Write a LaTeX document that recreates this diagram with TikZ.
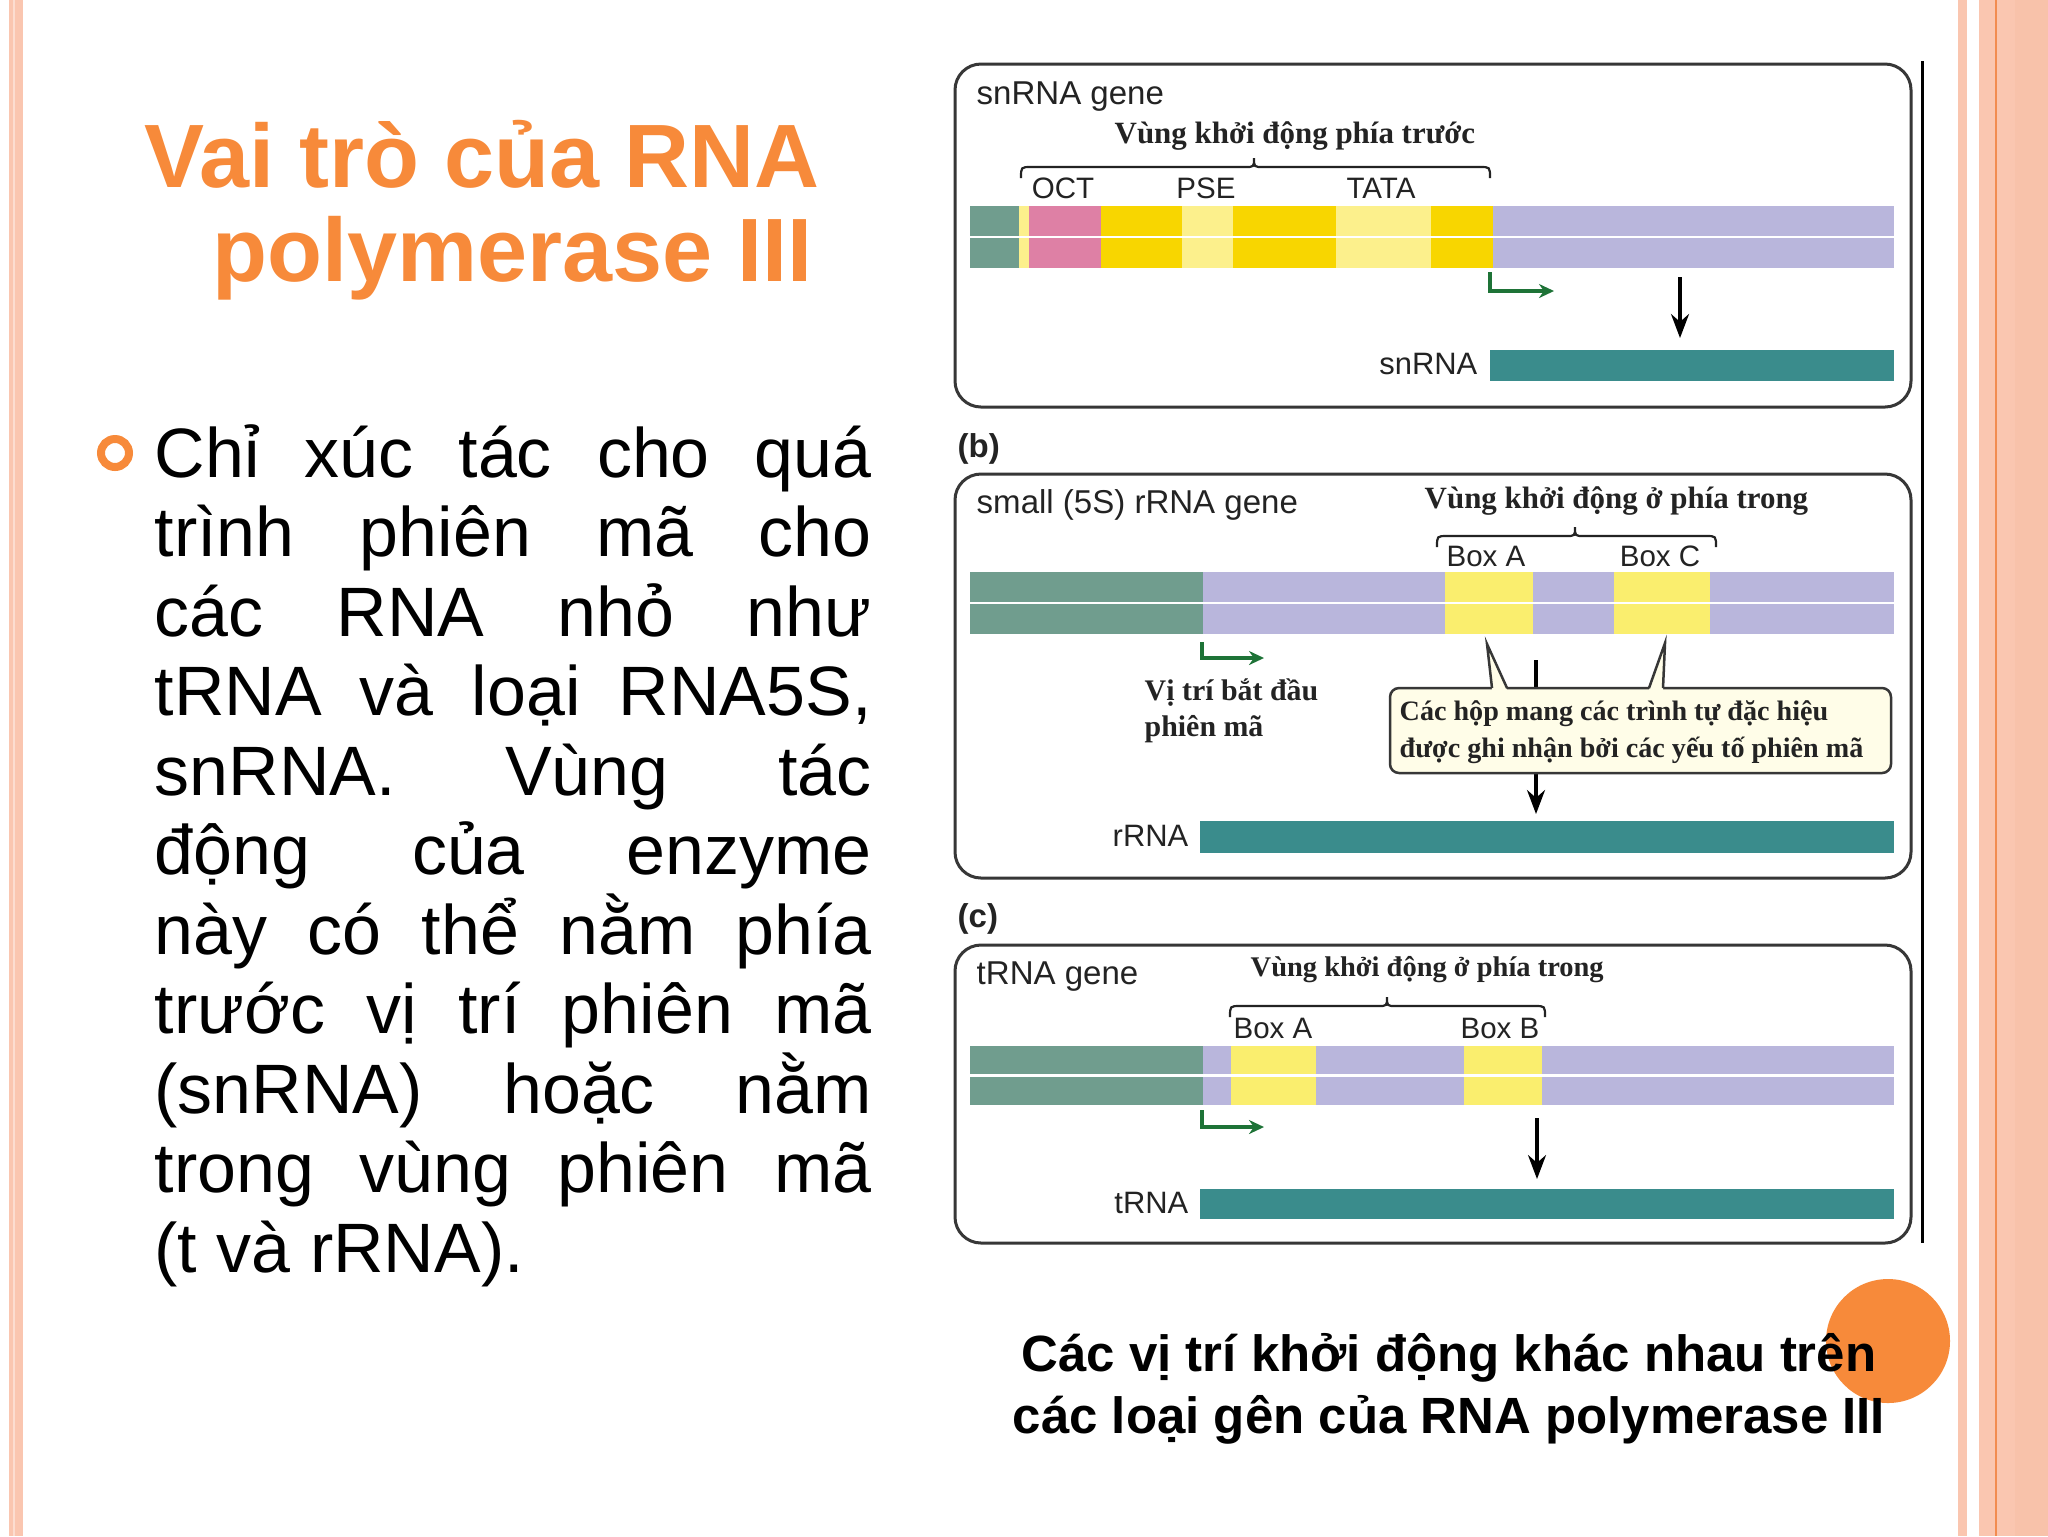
\documentclass[tikz,border=0pt]{standalone}
\usepackage{fontspec}
\setmainfont{Liberation Sans}
\newfontfamily\serifb{Liberation Serif}
\usetikzlibrary{arrows.meta}
\newcommand\pxf[1]{\fontsize{#1}{#1}\selectfont}
\definecolor{stripe}{RGB}{250,198,176}
\definecolor{stripeb}{RGB}{248,194,170}
\definecolor{stripeline}{RGB}{242,140,80}
\definecolor{accent}{RGB}{247,138,58}
\definecolor{figtext}{RGB}{35,35,35}
\definecolor{figframe}{RGB}{55,55,55}
\definecolor{dnagreen}{RGB}{112,157,142}
\definecolor{octpink}{RGB}{222,128,165}
\definecolor{gold}{RGB}{248,214,0}
\definecolor{paleyel}{RGB}{252,240,140}
\definecolor{lav}{RGB}{185,182,220}
\definecolor{boxyel}{RGB}{250,238,110}
\definecolor{rnateal}{RGB}{58,140,140}
\definecolor{tssgreen}{RGB}{30,115,55}
\definecolor{calloutfill}{RGB}{255,253,232}
\newcommand\brc[4]{% x0, x1, xm, y
  \draw[bracestyle] (#1,#4+11) .. controls (#1,#4) .. (#1+10,#4) -- (#3-9,#4)
    .. controls (#3,#4) .. (#3,#4-9) .. controls (#3,#4) .. (#3+9,#4) -- (#2-10,#4)
    .. controls (#2,#4) .. (#2,#4+11);}
\newcommand\dnabar[3]{% x0, y top, y bottom  (white separation)
  \draw[white, line width=0.28mm] (#1,{(#2+#3)/2}) -- (1894,{(#2+#3)/2});}
\tikzset{
  title/.style={font=\pxf{25.6pt}\bfseries, text=accent, inner sep=0},
  body/.style={font=\pxf{19.9pt}, text=black, anchor=base west, inner sep=0},
  caption/.style={font=\pxf{14.5pt}\bfseries, text=black, inner sep=0},
  genelbl/.style={font=\pxf{9.4pt}, text=figtext, anchor=west, inner sep=0},
  panellbl/.style={font=\pxf{9.4pt}\bfseries, text=figtext, anchor=west, inner sep=0},
  promlbl/.style={font=\serifb\pxf{8.8pt}\bfseries, text=figtext, anchor=west, inner sep=0},
  elemlbl/.style={font=\pxf{8.4pt}, text=figtext, inner sep=0},
  rnalbl/.style={font=\pxf{8.8pt}, text=figtext, anchor=east, inner sep=0},
  notelbl/.style={font=\serifb\pxf{8.0pt}\bfseries, text=figtext, anchor=west, inner sep=0},
  panel/.style={draw=figframe, line width=0.3mm, rounded corners=2.6mm},
  bracestyle/.style={draw=figtext, line width=0.22mm},
  tss/.style={draw=tssgreen, line width=0.4mm, -{Stealth[length=1.5mm,width=1.4mm]}},
  flow/.style={draw=black, line width=0.32mm, -{Stealth[length=2.4mm,width=1.8mm]}},
}
\begin{document}
\begin{tikzpicture}[x=0.1mm,y=-0.1mm]
\useasboundingbox (0,0) rectangle (2048,1536);
\fill[white] (0,0) rectangle (2048,1536);
% side stripes
\fill[stripe] (9,0) rectangle (13,1536);
\fill[stripe!60] (13,0) rectangle (15,1536);
\fill[stripe] (15,0) rectangle (23,1536);
\fill[stripe] (1958,0) rectangle (1967,1536);
\fill[stripe] (1979,0) rectangle (1995,1536);
\fill[stripeline] (1995,0) rectangle (1997,1536);
\fill[stripe] (1997,0) rectangle (2015,1536);
\fill[stripeb] (2015,0) rectangle (2048,1536);

% title
\node[title, anchor=base west] (t1) at (144,187) {Vai trò của RNA};
\node[title, anchor=base west] (t2) at (212,281) {polymerase III};

% bullet and body
\draw[accent, line width=0.8mm] (115,453) circle [radius=1.4mm];
\node[body] (l1) at (154,477) {\makebox[71.7mm][s]{Chỉ xúc tác cho quá}};
\node[body] (l2) at (154,556.5) {\makebox[71.7mm][s]{trình phiên mã cho}};
\node[body] (l3) at (154,636) {\makebox[71.7mm][s]{các RNA nhỏ như}};
\node[body] (l4) at (154,715.5) {\makebox[71.7mm][s]{tRNA và loại RNA5S,}};
\node[body] (l5) at (154,795) {\makebox[71.7mm][s]{snRNA. Vùng tác}};
\node[body] (l6) at (154,874.5) {\makebox[71.7mm][s]{động của enzyme}};
\node[body] (l7) at (154,954) {\makebox[71.7mm][s]{này có thể nằm phía}};
\node[body] (l8) at (154,1033.5) {\makebox[71.7mm][s]{trước vị trí phiên mã}};
\node[body] (l9) at (154,1113) {\makebox[71.7mm][s]{(snRNA) hoặc nằm}};
\node[body] (l10) at (154,1192.5) {\makebox[71.7mm][s]{trong vùng phiên mã}};
\node[body] (l11) at (154,1272) {(t và rRNA).};

% figure right rule
\draw[black, line width=0.3mm] (1922,61) -- (1922,1243);

% ---------- panel (a) ----------
\draw[panel] (955,64) rectangle (1911,407);
\node[genelbl] (ga) at (976,97) {snRNA gene};
\node[promlbl] (pa) at (1114,136) {Vùng khởi động phía trước};
\brc{1021}{1490}{1254}{167}
\node[elemlbl] (oct) at (1063,188) {OCT};
\node[elemlbl] (pse) at (1206,188) {PSE};
\node[elemlbl] (tata) at (1381,188) {TATA};
\fill[dnagreen] (970,206) rectangle (1019,268);
\fill[paleyel] (1019,206) rectangle (1029,268);
\fill[octpink] (1029,206) rectangle (1101,268);
\fill[gold] (1101,206) rectangle (1182,268);
\fill[paleyel] (1182,206) rectangle (1233,268);
\fill[gold] (1233,206) rectangle (1336,268);
\fill[paleyel] (1336,206) rectangle (1431,268);
\fill[gold] (1431,206) rectangle (1493,268);
\fill[lav] (1493,206) rectangle (1894,268);
\dnabar{970}{206}{268}
\coordinate (atss) at (1490,272);
\coordinate (atssend) at (1554,291);
\draw[tss] (atss) |- (atssend);
\coordinate (aflow1) at (1680,277);
\coordinate (aflow2) at (1680,338);
\draw[flow] (aflow1) -- (aflow2);
\node[rnalbl] (snrna) at (1478,364) {snRNA};
\fill[rnateal] (1490,350) rectangle (1894,381);

% ---------- panel (b) ----------
\node[panellbl] (pb) at (957,449) {(b)};
\draw[panel] (955,474) rectangle (1911,878);
\node[genelbl] (gb) at (976,505) {small (5S) rRNA gene};
\node[promlbl] (pbi) at (1424,501) {Vùng khởi động ở phía trong};
\brc{1437}{1716}{1575}{536}
\node[elemlbl] (bxa) at (1486,556) {Box A};
\node[elemlbl] (bxc) at (1660,556) {Box C};
\fill[dnagreen] (970,572) rectangle (1203,634);
\fill[lav] (1203,572) rectangle (1894,634);
\fill[boxyel] (1445,572) rectangle (1533,634);
\fill[boxyel] (1614,572) rectangle (1710,634);
\dnabar{970}{572}{634}
\coordinate (btss) at (1202,642);
\coordinate (btssend) at (1264,658);
\draw[tss] (btss) |- (btssend);
\node[promlbl, font=\serifb\pxf{8.5pt}\bfseries] (vt1) at (1144,693) {Vị trí bắt đầu};
\node[promlbl, font=\serifb\pxf{8.5pt}\bfseries] (vt2) at (1144,729) {phiên mã};
\coordinate (bflow1) at (1536,660);
\coordinate (bflow2) at (1536,814);
\draw[flow] (bflow1) -- (bflow2);
\draw[draw=figframe, fill=calloutfill, line width=0.25mm, rounded corners=0.9mm] (1390,688) rectangle (1891,773);
\fill[calloutfill] (1487,644) -- (1492,690) -- (1507,690) -- cycle;
\fill[calloutfill] (1665,643) -- (1649,690) -- (1663,690) -- cycle;
\draw[figframe, line width=0.25mm] (1492,688) -- (1487,644) -- (1507,688);
\draw[figframe, line width=0.25mm] (1649,688) -- (1665,643) -- (1663,688);
\node[notelbl] (n1) at (1399,714) {Các hộp mang các trình tự đặc hiệu};
\node[notelbl] (n2) at (1399,750) {được ghi nhận bởi các yếu tố phiên mã};
\node[rnalbl] (rrna) at (1189,836) {rRNA};
\fill[rnateal] (1200,821) rectangle (1894,853);

% ---------- panel (c) ----------
\node[panellbl] (pc) at (957,919) {(c)};
\draw[panel] (955,945) rectangle (1911,1243);
\node[genelbl] (gc) at (976,977) {tRNA gene};
\node[promlbl, font=\serifb\pxf{8.1pt}\bfseries] (pci) at (1250,970) {Vùng khởi động ở phía trong};
\brc{1230}{1545}{1387}{1006}
\node[elemlbl] (cxa) at (1273,1028) {Box A};
\node[elemlbl] (cxb) at (1500,1028) {Box B};
\fill[dnagreen] (970,1046) rectangle (1203,1105);
\fill[lav] (1203,1046) rectangle (1894,1105);
\fill[boxyel] (1231,1046) rectangle (1316,1105);
\fill[boxyel] (1464,1046) rectangle (1542,1105);
\dnabar{970}{1046}{1105}
\coordinate (ctss) at (1202,1110);
\coordinate (ctssend) at (1264,1127);
\draw[tss] (ctss) |- (ctssend);
\coordinate (cflow1) at (1537,1118);
\coordinate (cflow2) at (1537,1179);
\draw[flow] (cflow1) -- (cflow2);
\node[rnalbl] (trna) at (1189,1203) {tRNA};
\fill[rnateal] (1200,1189) rectangle (1894,1219);

% orange circle and caption
\fill[accent] (1888,1341) circle [radius=6.2mm];
\node[caption] (cap1) at (1449,1358) {Các vị trí khởi động khác nhau trên};
\node[caption] (cap2) at (1449,1420) {các loại gên của RNA polymerase III};
\end{tikzpicture}
\end{document}
